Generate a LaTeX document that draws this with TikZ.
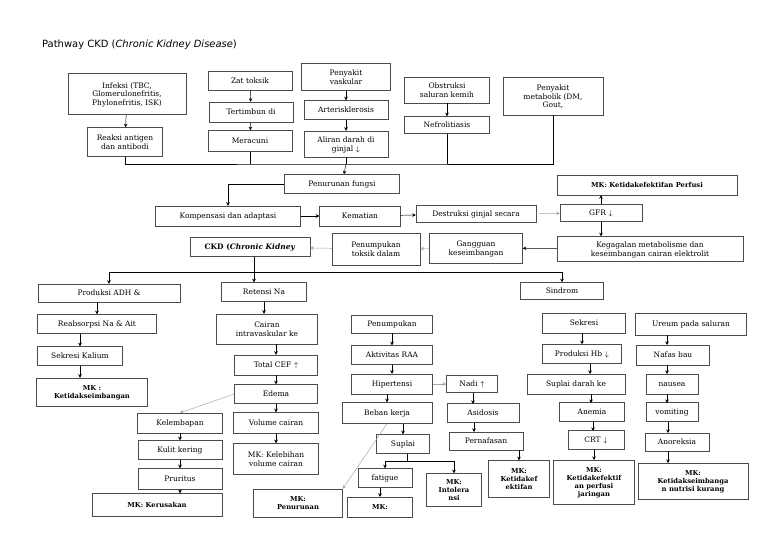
\documentclass[tikz,border=0pt]{standalone}
\usepackage{fontspec}
\setmainfont{DejaVu Serif}
\newfontfamily\titlefont{DejaVu Sans}
\usetikzlibrary{arrows.meta}
\newcommand{\px}{0.03cm}

\begin{document}
\begin{tikzpicture}[x=\px,y=-\px,
  box/.style={draw=black!70,fill=white,inner sep=1pt,align=center,font=\fontsize{6.4}{7.4}\selectfont,text depth=0pt},
  mk/.style={box,font=\fontsize{5.8}{6.8}\selectfont\bfseries},
  arr/.style={-{Stealth[length=3pt,width=3pt]},black},
  garr/.style={-{Stealth[length=3pt,width=3pt]},black!35},
  ln/.style={black}]
\useasboundingbox (0,0) rectangle (768,543);
\node[anchor=west,font=\titlefont\fontsize{8.5}{10}\selectfont] (title) at (38,45) {Pathway CKD (\textit{Chronic Kidney Disease})};

% penyebab
\node[box,minimum width=118*\px,minimum height=41*\px] (infeksi) at (127,94) {Infeksi (TBC,\\Glomerulonefritis,\\Phylonefritis, ISK)};
\node[box,minimum width=75*\px,minimum height=29*\px] (reaksi) at (125,142) {Reaksi antigen\\dan antibodi};
\node[box,minimum width=84*\px,minimum height=19*\px] (zat) at (250,81) {Zat toksik};
\node[box,minimum width=84*\px,minimum height=20*\px] (tertimbun) at (251,112) {Tertimbun di};
\node[box,minimum width=84*\px,minimum height=21*\px] (meracuni) at (250,141) {Meracuni};
\node[box,minimum width=89*\px,minimum height=27*\px] (vaskular) at (346,77) {Penyakit\\vaskular};
\node[box,minimum width=84*\px,minimum height=19*\px] (arteri) at (346,110) {Arterisklerosis};
\node[box,minimum width=84*\px,minimum height=26*\px] (aliran) at (346,144) {Aliran darah di\\ginjal $\downarrow$};
\node[box,minimum width=85*\px,minimum height=26*\px] (obstruksi) at (447,90) {Obstruksi\\saluran kemih};
\node[box,minimum width=85*\px,minimum height=17*\px] (nefro) at (447,125) {Nefrolitiasis};
\node[box,minimum width=100*\px,minimum height=38*\px,anchor=north] (metabolik) at (553,77) {Penyakit\\metabolik (DM,\\Gout,};

\draw[arr] (infeksi) -- (reaksi);
\draw[arr] (zat) -- (tertimbun);
\draw[arr] (tertimbun) -- (meracuni);
\draw[arr] (vaskular) -- (arteri);
\draw[arr] (arteri) -- (aliran);
\draw[arr] (obstruksi) -- (nefro);
\coordinate (kumpul) at (346,164);
\draw[ln] (reaksi.south) |- (kumpul) -| (metabolik.south);
\draw[ln] (meracuni.south) -- (meracuni.south |- kumpul);
\draw[ln] (nefro.south) -- (nefro.south |- kumpul);
\draw[ln] (aliran.south) -- (kumpul);

% ginjal
\node[box,minimum width=115*\px,minimum height=19*\px] (penurunan) at (342,184) {Penurunan fungsi};
\node[box,minimum width=145*\px,minimum height=20*\px] (kompensasi) at (228,216) {Kompensasi dan adaptasi};
\node[box,minimum width=81*\px,minimum height=20*\px] (kematian) at (360,216) {Kematian};
\node[box,minimum width=120*\px,minimum height=17*\px] (destruksi) at (476,214) {Destruksi ginjal secara};
\node[box,minimum width=82*\px,minimum height=17*\px] (gfr) at (601,213) {GFR $\downarrow$};
\node[mk,minimum width=180*\px,minimum height=20*\px] (mkperfusi) at (647,185) {MK: Ketidakefektifan Perfusi};
\node[box,minimum width=186*\px,minimum height=25*\px] (kegagalan) at (650,249) {Kegagalan metabolisme dan\\keseimbangan cairan elektrolit};
\node[box,minimum width=93*\px,minimum height=30*\px] (gangguan) at (476,248) {Gangguan\\keseimbangan};
\node[box,minimum width=88*\px,minimum height=32*\px] (toksik) at (376,249) {Penumpukan\\toksik dalam};
\node[box,minimum width=120*\px,minimum height=19*\px,font=\fontsize{6.4}{7.4}\selectfont\bfseries] (ckd) at (250,247) {CKD (\textit{Chronic Kidney}};

\draw[arr] (kumpul) -- (penurunan);
\draw[arr] (penurunan.west) -| (kompensasi.north);
\draw[arr] (kompensasi) -- (kematian);
\draw[arr] (kematian) -- (destruksi);
\draw[garr] (destruksi) -- (gfr);
\draw[arr] (gfr) -- (gfr |- mkperfusi.south);
\draw[arr] (gfr) -- (gfr |- kegagalan.north);
\draw[arr] (kegagalan) -- (gangguan);
\draw[garr] (gangguan) -- (toksik);
\draw[garr] (toksik) -- (ckd);

% cabang bawah
\coordinate (cabang) at (254,272);
\node[box,minimum width=142*\px,minimum height=18*\px] (adh) at (109,293) {Produksi ADH \&};
\node[box,minimum width=85*\px,minimum height=19*\px] (retensi) at (264,292) {Retensi Na};
\node[box,minimum width=83*\px,minimum height=17*\px] (sindrom) at (562,291) {Sindrom};
\draw[ln] (ckd.south -| cabang) -- (cabang);
\draw[arr] (cabang) -| (adh.north);
\draw[arr] (cabang) -- (cabang |- retensi.north);
\draw[arr] (cabang) -| (sindrom.north);

\node[box,minimum width=119*\px,minimum height=19*\px] (reabsorpsi) at (97,324) {Reabsorpsi Na \& Ait};
\node[box,minimum width=85*\px,minimum height=19*\px] (kalium) at (80,356) {Sekresi Kalium};
\node[mk,minimum width=111*\px,minimum height=28*\px] (mkelektrolit) at (92,392) {MK :\\Ketidakseimbangan};
\draw[arr] (adh.south -| reabsorpsi) -- (reabsorpsi);
\draw[arr] (reabsorpsi.south -| kalium) -- (kalium);
\draw[arr] (kalium) -- (kalium |- mkelektrolit.north);

\node[box,minimum width=101*\px,minimum height=30*\px] (cairan) at (267,329) {Cairan\\intravaskular ke};
\node[box,minimum width=83*\px,minimum height=20*\px] (cef) at (276,365) {Total CEF $\uparrow$};
\node[box,minimum width=83*\px,minimum height=19*\px] (edema) at (276,394) {Edema};
\node[box,minimum width=85*\px,minimum height=20*\px] (lembap) at (180,423) {Kelembapan};
\node[box,minimum width=85*\px,minimum height=21*\px] (volume) at (276,423) {Volume cairan};
\node[box,minimum width=84*\px,minimum height=19*\px] (kulit) at (180,450) {Kulit kering};
\node[box,minimum width=85*\px,minimum height=31*\px] (mkvolume) at (276,459) {MK: Kelebihan\\volume cairan};
\node[box,minimum width=84*\px,minimum height=21*\px] (pruritus) at (180,479) {Pruritus};
\node[mk,minimum width=130*\px,minimum height=23*\px] (mkkulit) at (157,505) {MK: Kerusakan};
\node[mk,minimum width=89*\px,minimum height=28*\px] (mkcurah) at (298,503) {MK:\\Penurunan};
\draw[arr] (retensi) -- (retensi |- cairan.north);
\draw[arr] (cairan.south -| cef) -- (cef);
\draw[arr] (cef) -- (edema);
\draw[garr] (edema.west) -- (lembap.north);
\draw[arr] (edema) -- (volume);
\draw[arr] (volume) -- (mkvolume);
\draw[arr] (lembap) -- (kulit);
\draw[arr] (kulit) -- (pruritus);
\draw[arr] (pruritus) -- (pruritus |- mkkulit.north);

% RAA
\node[box,minimum width=81*\px,minimum height=18*\px] (natrium) at (392,324) {Penumpukan};
\node[box,minimum width=81*\px,minimum height=19*\px] (raa) at (392,355) {Aktivitas RAA};
\node[box,minimum width=81*\px,minimum height=20*\px] (hipertensi) at (392,384) {Hipertensi};
\node[box,minimum width=90*\px,minimum height=21*\px] (beban) at (387,413) {Beban kerja};
\node[box,minimum width=53*\px,minimum height=19*\px] (suplai) at (403,444) {Suplai};
\node[box,minimum width=54*\px,minimum height=19*\px] (fatigue) at (385,478) {fatigue};
\node[mk,minimum width=65*\px,minimum height=20*\px] (mkfatigue) at (380,507) {MK:};
\node[mk,minimum width=55*\px,minimum height=33*\px] (mkintoleransi) at (454,490) {MK:\\Intolera\\nsi};
\node[box,minimum width=51*\px,minimum height=17*\px] (nadi) at (472,384) {Nadi $\uparrow$};
\node[box,minimum width=72*\px,minimum height=19*\px] (asidosis) at (483,413) {Asidosis};
\node[box,minimum width=74*\px,minimum height=18*\px] (nafas) at (486,441) {Pernafasan};
\node[mk,minimum width=61*\px,minimum height=37*\px] (mknafas) at (519,479) {MK:\\Ketidakef\\ektifan};
\draw[arr] (natrium) -- (raa);
\draw[arr] (raa) -- (hipertensi);
\draw[arr] (hipertensi.south -| beban) -- (beban);
\draw[garr] (hipertensi) -- (nadi);
\draw[arr] (nadi.south -| 473,0) -- (473,404);
\draw[arr] (asidosis.south -| 474,0) -- (474,432);
\draw[arr] (nafas.south -| mknafas) -- (mknafas);
\draw[arr] (beban.south -| suplai) -- (suplai);
\draw[garr] (beban.south) -- (mkcurah.north east);
\coordinate (garpu) at (407,461);
\draw[ln] (suplai.south -| garpu) -- (garpu);
\draw[arr] (garpu) -| (fatigue.north);
\draw[arr] (garpu) -| (mkintoleransi.north);
\draw[arr] (fatigue.south -| mkfatigue) -- (mkfatigue);

% sindrom uremia
\node[box,minimum width=83*\px,minimum height=20*\px] (eritro) at (584,323) {Sekresi};
\node[box,minimum width=79*\px,minimum height=19*\px] (hb) at (582,354) {Produksi Hb $\downarrow$};
\node[box,minimum width=98*\px,minimum height=20*\px] (suplaidarah) at (576,384) {Suplai darah ke};
\node[box,minimum width=65*\px,minimum height=19*\px] (anemia) at (592,412) {Anemia};
\node[box,minimum width=56*\px,minimum height=19*\px] (crt) at (596,440) {CRT $\downarrow$};
\node[mk,minimum width=81*\px,minimum height=44*\px] (mkjaringan) at (594,482) {MK:\\Ketidakefektif\\an perfusi\\jaringan};
\node[box,minimum width=111*\px,minimum height=22*\px] (ureum) at (691,324) {Ureum pada saluran};
\node[box,minimum width=73*\px,minimum height=20*\px] (bau) at (673,355) {Nafas bau};
\node[box,minimum width=52*\px,minimum height=20*\px] (nausea) at (672,384) {nausea};
\node[box,minimum width=52*\px,minimum height=19*\px] (vomiting) at (672,412) {vomiting};
\node[box,minimum width=64*\px,minimum height=18*\px] (anoreksia) at (677,442) {Anoreksia};
\node[mk,minimum width=110*\px,minimum height=36*\px] (mknutrisi) at (693,481) {MK:\\Ketidakseimbanga\\n nutrisi kurang};
\draw[arr] (eritro.south -| hb) -- (hb);
\draw[arr] (hb.south -| 590,0) -- (590,374);
\draw[arr] (suplaidarah.south -| 591,0) -- (591,403);
\draw[arr] (anemia.south -| 593,0) -- (593,431);
\draw[arr] (crt.south -| 594,0) -- (594,460);
\draw[arr] (ureum.south -| 667,0) -- (667,345);
\draw[arr] (bau.south -| 667,0) -- (667,374);
\draw[arr] (nausea.south -| 667,0) -- (667,403);
\draw[arr] (vomiting.south -| 668,0) -- (668,433);
\draw[arr] (anoreksia.south -| 668,0) -- (668,463);
\end{tikzpicture}
\end{document}
